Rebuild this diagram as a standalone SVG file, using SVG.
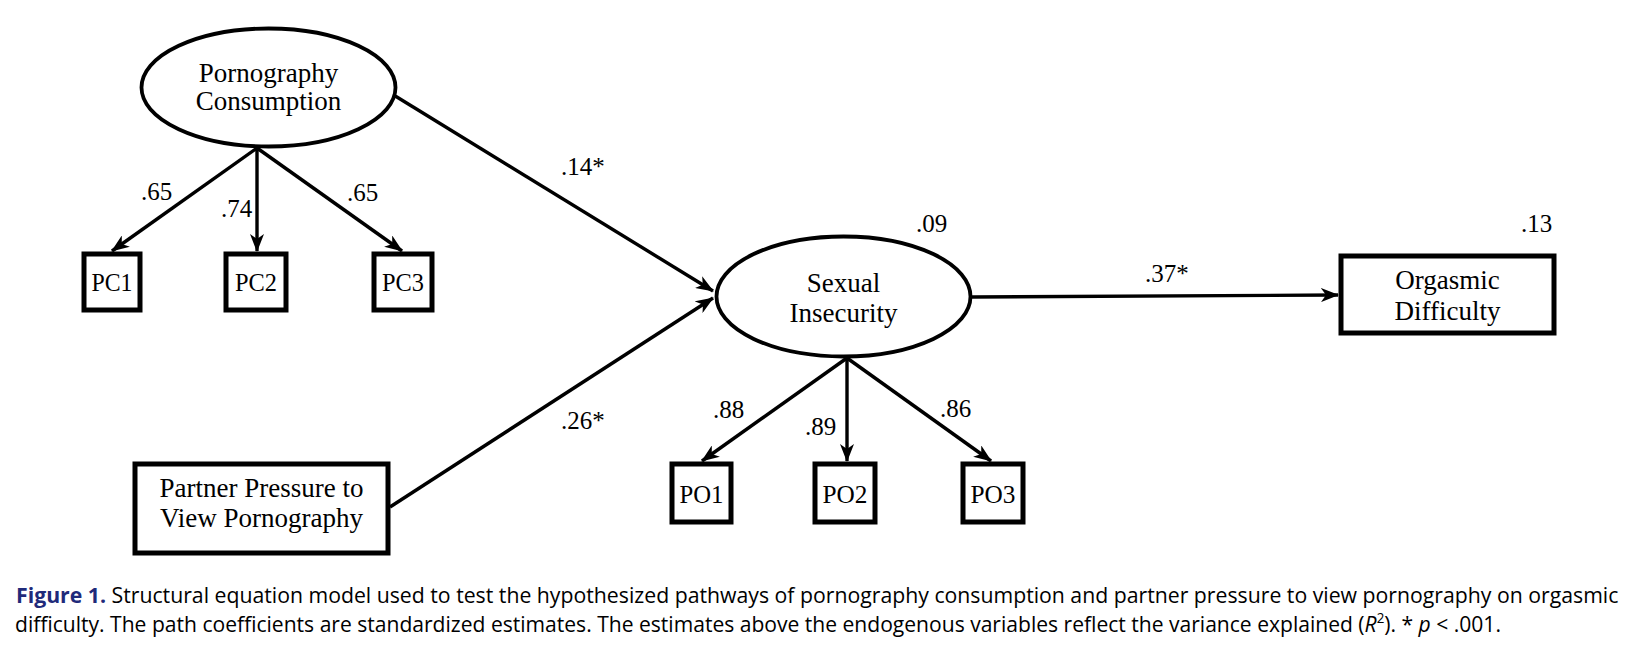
<svg xmlns="http://www.w3.org/2000/svg" width="1650" height="660" viewBox="0 0 1650 660">
<defs>
<marker id="arr" markerUnits="userSpaceOnUse" markerWidth="18" markerHeight="14" viewBox="0 0 18 14" refX="17" refY="7" orient="auto">
<path d="M0,0 L18,7 L0,14 L5,7 z" fill="#000"/>
</marker>
</defs>
<style>
.lat{fill:#fff;stroke:#000;stroke-width:3.8}
.box{fill:#fff;stroke:#000;stroke-width:5}
.edge{stroke:#000;stroke-width:3.4;fill:none;marker-end:url(#arr)}
.t{font-family:"Liberation Serif","Times New Roman",serif;font-size:27px;fill:#000;text-anchor:middle}
.n{font-family:"Liberation Serif","Times New Roman",serif;font-size:25px;fill:#000}
.b{font-family:"Liberation Serif","Times New Roman",serif;font-size:26px;fill:#000;text-anchor:middle}
.cap{font-family:"Open Sans","Noto Sans","Liberation Sans",sans-serif;font-size:22px;fill:#000}
</style>
<rect width="1650" height="660" fill="#fff"/>
<g id="connectors">
<line class="edge" x1="257" y1="148" x2="112" y2="251"/>
<line class="edge" x1="257" y1="148" x2="257" y2="251"/>
<line class="edge" x1="257" y1="148" x2="402" y2="251"/>
<line class="edge" x1="392" y1="94" x2="713" y2="291"/>
<line class="edge" x1="390" y1="507" x2="713" y2="298"/>
<line class="edge" x1="972" y1="297" x2="1338" y2="295"/>
<line class="edge" x1="847" y1="358" x2="702" y2="461"/>
<line class="edge" x1="847" y1="358" x2="847" y2="461"/>
<line class="edge" x1="847" y1="358" x2="991" y2="461"/>
<text class="n" x="141" y="200">.65</text>
<text class="n" x="221" y="217">.74</text>
<text class="n" x="347" y="201">.65</text>
<text class="n" x="561" y="175">.14*</text>
<text class="n" x="561" y="429">.26*</text>
<text class="n" x="1145" y="282">.37*</text>
<text class="n" x="713" y="418">.88</text>
<text class="n" x="805" y="435">.89</text>
<text class="n" x="940" y="417">.86</text>
</g>
<g id="pornography-consumption">
<ellipse class="lat" cx="268.5" cy="87.5" rx="127" ry="59"/>
<text class="t" x="268.5" y="82">Pornography</text>
<text class="t" x="268.5" y="110">Consumption</text>
</g>
<g id="pc1"><rect class="box" x="84" y="254" width="56" height="56"/><text class="b" x="112" y="291" textLength="41" lengthAdjust="spacingAndGlyphs">PC1</text></g>
<g id="pc2"><rect class="box" x="226" y="254" width="60" height="56"/><text class="b" x="256" y="291" textLength="42" lengthAdjust="spacingAndGlyphs">PC2</text></g>
<g id="pc3"><rect class="box" x="374" y="254" width="58" height="56"/><text class="b" x="403" y="291" textLength="42" lengthAdjust="spacingAndGlyphs">PC3</text></g>
<g id="sexual-insecurity">
<ellipse class="lat" cx="843.5" cy="296.5" rx="127" ry="60"/>
<text class="t" x="843.5" y="292">Sexual</text>
<text class="t" x="843.5" y="322">Insecurity</text>
<text class="n" x="916" y="232">.09</text>
</g>
<g id="po1"><rect class="box" x="672" y="464" width="59" height="58"/><text class="b" x="701.5" y="503" textLength="44" lengthAdjust="spacingAndGlyphs">PO1</text></g>
<g id="po2"><rect class="box" x="815" y="464" width="60" height="58"/><text class="b" x="845" y="503" textLength="45" lengthAdjust="spacingAndGlyphs">PO2</text></g>
<g id="po3"><rect class="box" x="963" y="464" width="60" height="58"/><text class="b" x="993" y="503" textLength="45" lengthAdjust="spacingAndGlyphs">PO3</text></g>
<g id="partner-pressure">
<rect class="box" x="135" y="464" width="253" height="89"/>
<text class="t" x="261.5" y="497">Partner Pressure to</text>
<text class="t" x="261.5" y="527">View Pornography</text>
</g>
<g id="orgasmic-difficulty">
<rect class="box" x="1341" y="256" width="213" height="77"/>
<text class="t" x="1447.5" y="289">Orgasmic</text>
<text class="t" x="1447.5" y="320">Difficulty</text>
<text class="n" x="1521" y="232">.13</text>
</g>
<g id="caption">
<g transform="translate(16,603) scale(0.966,1)"><text class="cap" x="0" y="0"><tspan fill="#1f2a7a" font-weight="bold">Figure 1.</tspan> Structural equation model used to test the hypothesized pathways of pornography consumption and partner pressure to view pornography on orgasmic</text></g>
<g transform="translate(15,632) scale(0.958,1)"><text class="cap" x="0" y="0">difficulty. The path coefficients are standardized estimates. The estimates above the endogenous variables reflect the variance explained (<tspan font-style="italic">R</tspan><tspan font-size="14" baseline-shift="super">2</tspan>). * <tspan font-style="italic">p</tspan> &lt; .001.</text></g>
</g>
</svg>
